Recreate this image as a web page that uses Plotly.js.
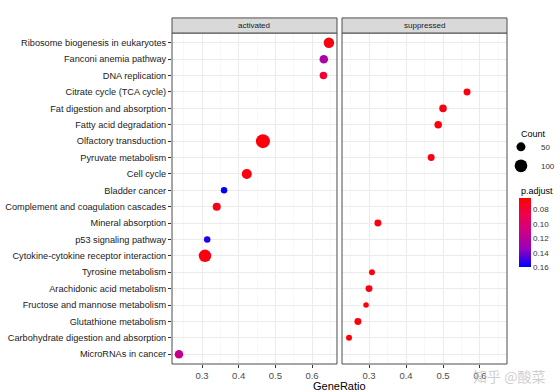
<!DOCTYPE html>
<html>
<head>
<meta charset="utf-8">
<script src="https://cdn.plot.ly/plotly-3.0.1.min.js"></script>
<style>html,body{margin:0;padding:0;background:#fff;}#chart{width:560px;height:392px;}</style>
</head>
<body>
<div id="chart"></div>
<script>
// Category order, top to bottom
const termOrder = [
  "Ribosome biogenesis in eukaryotes","Fanconi anemia pathway","DNA replication",
  "Citrate cycle (TCA cycle)","Fat digestion and absorption","Fatty acid degradation",
  "Olfactory transduction","Pyruvate metabolism","Cell cycle","Bladder cancer",
  "Complement and coagulation cascades","Mineral absorption","p53 signaling pathway",
  "Cytokine-cytokine receptor interaction","Tyrosine metabolism","Arachidonic acid metabolism",
  "Fructose and mannose metabolism","Glutathione metabolism",
  "Carbohydrate digestion and absorption","MicroRNAs in cancer"
];

// activated panel
const actTerms = ["Ribosome biogenesis in eukaryotes","Fanconi anemia pathway","DNA replication",
  "Olfactory transduction","Cell cycle","Bladder cancer","Complement and coagulation cascades",
  "p53 signaling pathway","Cytokine-cytokine receptor interaction","MicroRNAs in cancer"];
const actRatio = [0.646, 0.632, 0.631, 0.466, 0.422, 0.360, 0.340, 0.314, 0.308, 0.237];
const actCount = [68, 45, 35, 121, 62, 26, 40, 26, 97, 45];
const actPadj  = [0.070, 0.125, 0.080, 0.068, 0.070, 0.160, 0.072, 0.155, 0.070, 0.115];

// suppressed panel
const supTerms = ["Citrate cycle (TCA cycle)","Fat digestion and absorption","Fatty acid degradation",
  "Pyruvate metabolism","Mineral absorption","Tyrosine metabolism","Arachidonic acid metabolism",
  "Fructose and mannose metabolism","Glutathione metabolism","Carbohydrate digestion and absorption"];
const supRatio = [0.565, 0.500, 0.487, 0.468, 0.324, 0.308, 0.300, 0.292, 0.270, 0.246];
const supCount = [30, 35, 35, 30, 30, 22, 30, 19, 30, 22];
const supPadj  = [0.068, 0.070, 0.068, 0.069, 0.070, 0.068, 0.070, 0.069, 0.068, 0.067];

// legend / colorbar ticks
const countLegend = [50, 100];
const padjTicks = [0.08, 0.10, 0.12, 0.14, 0.16];
const panelNames = ["activated", "suppressed"];
const watermark = "知乎 @酸菜";

const sz = c => 1.27 * Math.sqrt(c);
// colour is mapped on -p.adjust so that small p (red) sits at the top of the bar
const cscale = [[0,'#0000FF'],[0.25,'#9200C0'],[0.5,'#CC0088'],[0.75,'#EE0050'],[1,'#FF0000']];
const cmin = -0.16, cmax = -0.065;
const neg = a => a.map(v => -v);

const traces = [
  {type:'scatter', mode:'markers', x:actRatio, y:actTerms, xaxis:'x', yaxis:'y', showlegend:false,
   hoverinfo:'skip',
   marker:{size:actCount.map(sz), opacity:1, color:neg(actPadj), colorscale:cscale, cmin:cmin, cmax:cmax,
     line:{width:0}, showscale:true,
     colorbar:{title:{text:''},
       x:1.036, xanchor:'left', y:0.396, yanchor:'middle', len:69, lenmode:'pixels', thickness:12,
       outlinewidth:0, tickvals:neg(padjTicks), ticktext:padjTicks.map(v => v.toFixed(2)),
       ticks:'', tickfont:{size:8, color:'#333', family:'Liberation Sans, Arial'}, xpad:0, ypad:0}}},
  {type:'scatter', mode:'markers', x:supRatio, y:supTerms, xaxis:'x2', yaxis:'y', showlegend:false,
   hoverinfo:'skip',
   marker:{size:supCount.map(sz), opacity:1, color:neg(supPadj), colorscale:cscale, cmin:cmin, cmax:cmax,
     line:{width:0}, showscale:false}}
];
countLegend.forEach(c => traces.push({type:'scatter', mode:'markers', x:[null], y:[null],
  xaxis:'x', yaxis:'y', name:String(c), showlegend:true, legendgroup:'count',
  marker:{size:sz(c), color:'#000', opacity:1}}));

const font = {family:'Liberation Sans, Arial, sans-serif', color:'#333'};
const xbase = {
  showgrid:true, gridcolor:'#EBEBEB', gridwidth:1, zeroline:false,
  tickvals:[0.3,0.4,0.5,0.6], ticktext:['0.3','0.4','0.5','0.6'],
  ticks:'outside', ticklen:3, tickcolor:'#333', tickfont:{size:9.5, color:'#4d4d4d'},
  minor:{showgrid:true, tickvals:[0.25,0.35,0.45,0.55,0.65], gridcolor:'#F4F4F4', gridwidth:0.6},
  showline:false, anchor:'y'
};
const layout = {
  width:560, height:392,
  margin:{l:172, r:53, t:33, b:28, autoexpand:false},
  paper_bgcolor:'#fff', plot_bgcolor:'#fff',
  font:font,
  showlegend:true,
  legend:{x:0.982, xanchor:'left', y:0.70, yanchor:'top', itemwidth:30,
    font:{size:8, color:'#333'}, itemsizing:'trace', tracegroupgap:0, bgcolor:'rgba(0,0,0,0)'},
  xaxis: Object.assign({}, xbase, {domain:[0, 0.4925], range:[0.218, 0.668]}),
  xaxis2: Object.assign({}, xbase, {domain:[0.5075, 1], range:[0.227, 0.673]}),
  yaxis: {type:'category', categoryorder:'array', categoryarray:termOrder, range:[19.6,-0.6],
    showgrid:true, gridcolor:'#EBEBEB', zeroline:false, ticks:'outside', ticklen:3, tickcolor:'#333',
    tickfont:{size:9.2, color:'#1a1a1a'}, anchor:'x', automargin:false},
  shapes:[
    {type:'rect', xref:'x domain', yref:'y domain', x0:0, x1:1, y0:0, y1:1, line:{color:'#4d4d4d', width:1}, fillcolor:'rgba(0,0,0,0)', layer:'above'},
    {type:'rect', xref:'x2 domain', yref:'y domain', x0:0, x1:1, y0:0, y1:1, line:{color:'#4d4d4d', width:1}, fillcolor:'rgba(0,0,0,0)', layer:'above'},
    {type:'rect', xref:'x domain', yref:'y domain', x0:0, x1:1, y0:1, y1:1.0455, line:{color:'#4d4d4d', width:1}, fillcolor:'#D9D9D9'},
    {type:'rect', xref:'x2 domain', yref:'y domain', x0:0, x1:1, y0:1, y1:1.0455, line:{color:'#4d4d4d', width:1}, fillcolor:'#D9D9D9'}
  ],
  annotations:[
    {text:panelNames[0], xref:'x domain', yref:'y domain', x:0.5, y:1.0228, yanchor:'middle', showarrow:false, font:{size:8, color:'#1a1a1a'}},
    {text:panelNames[1], xref:'x2 domain', yref:'y domain', x:0.5, y:1.0228, yanchor:'middle', showarrow:false, font:{size:8, color:'#1a1a1a'}},
    {text:'GeneRatio', xref:'paper', yref:'paper', x:0.5, y:-0.066, yanchor:'middle', showarrow:false, font:{size:11, color:'#000'}},
    {text:'Count', xref:'paper', yref:'paper', x:1.036, xanchor:'left', y:0.695, yanchor:'middle', showarrow:false, font:{size:9, color:'#000'}},
    {text:'p.adjust', xref:'paper', yref:'paper', x:1.036, xanchor:'left', y:0.524, yanchor:'middle', showarrow:false, font:{size:9, color:'#000'}},
    {text:watermark, xref:'paper', yref:'paper', x:1.12, xanchor:'right', y:-0.035, yanchor:'middle', showarrow:false,
     font:{size:14, color:'rgba(190,190,190,0.75)', family:'Noto Sans CJK SC, sans-serif'}}
  ]
};
Plotly.newPlot('chart', traces, layout, {staticPlot:true, displayModeBar:false});
</script>
</body>
</html>
